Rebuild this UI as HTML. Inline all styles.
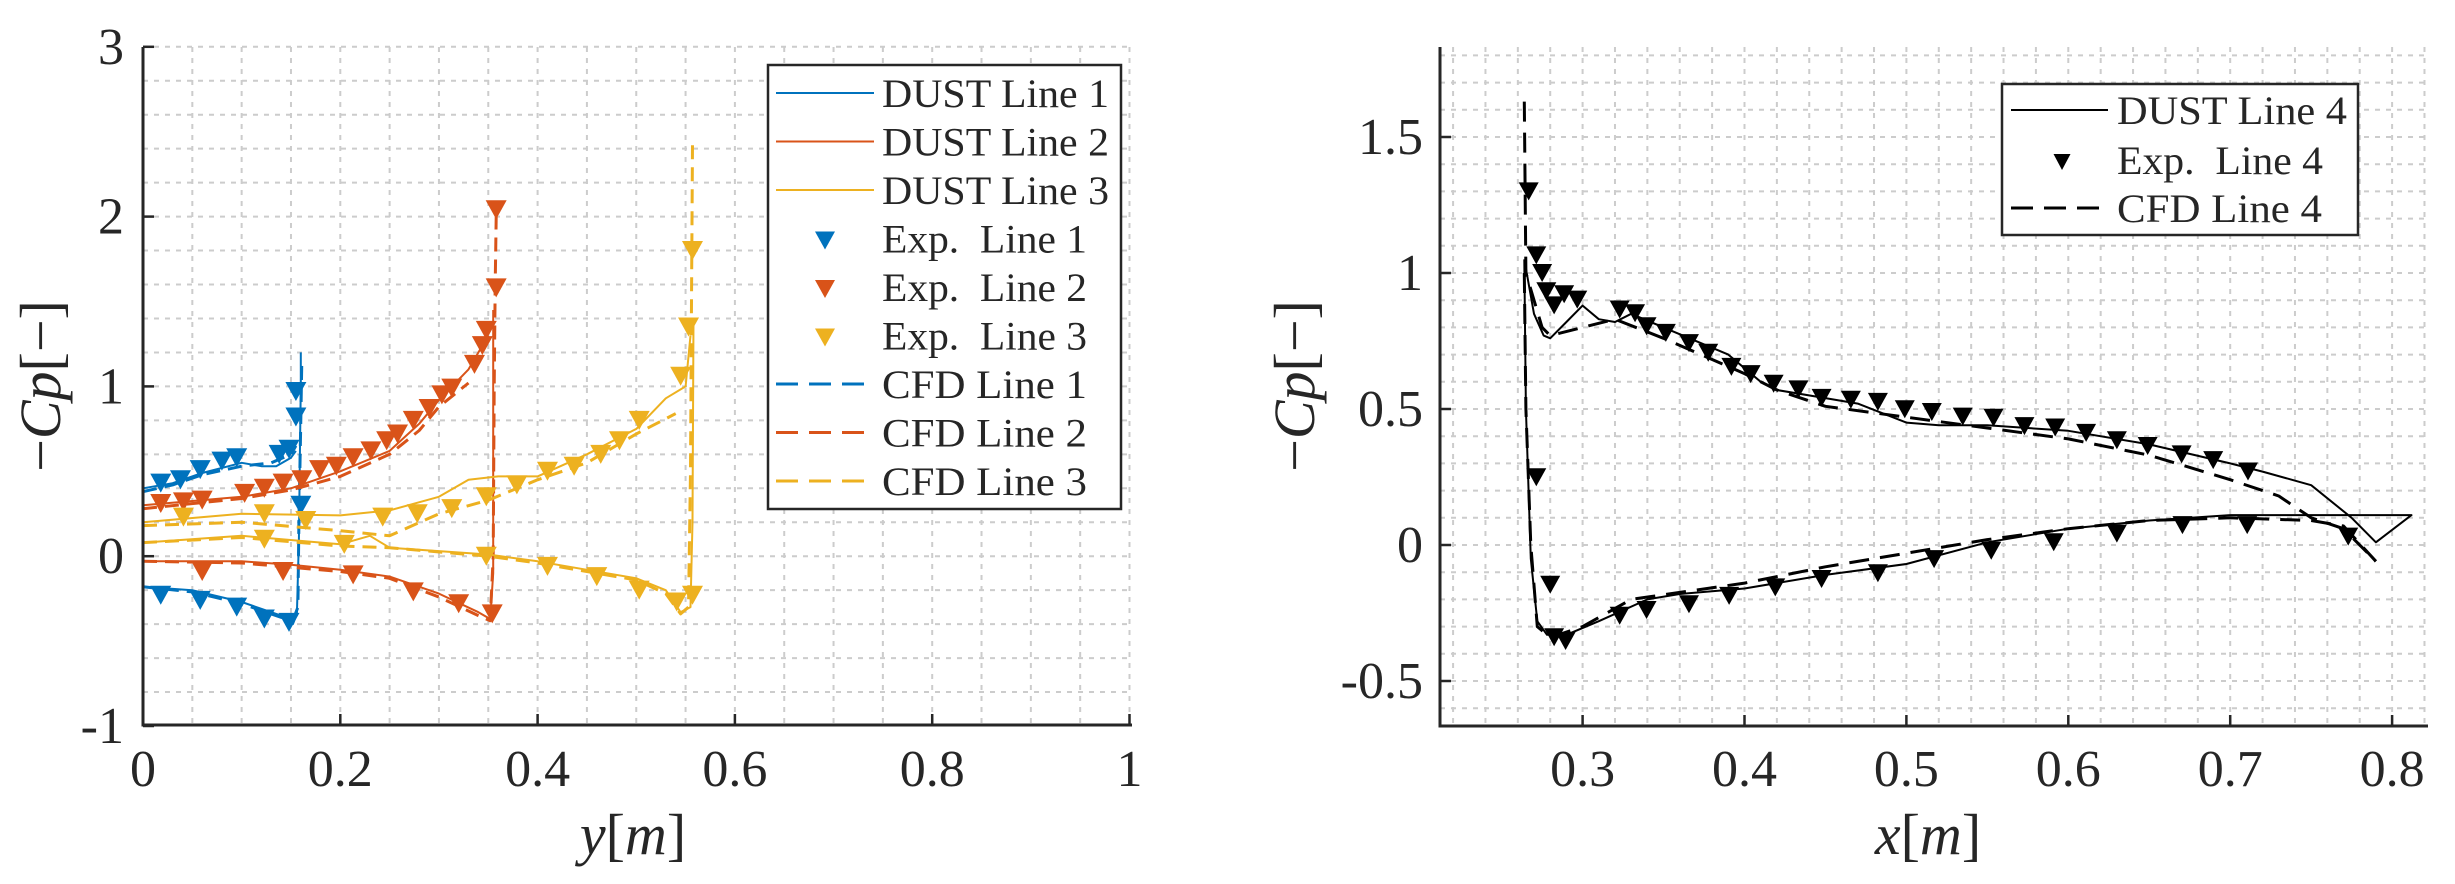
<!DOCTYPE html>
<html><head><meta charset="utf-8"><style>
html,body{margin:0;padding:0;background:#fff;}
svg{display:block;}
text{font-family:"Liberation Serif",serif;fill:#262626;}
</style></head><body>
<svg id="s" width="2455" height="884" xmlns="http://www.w3.org/2000/svg"></svg>
<script>
const S=document.getElementById('s');
let h='';
function add(x){h+=x;}
const B='#0072BD',R='#D95319',Y='#EDB120';
const LX=v=>143+986.5*v, LY=v=>556.2-169.8*v;
const RX=v=>1582.6+1619*(v-0.3), RY=v=>545-272*v;
function grid(x0,x1,y0,y1,xs,ys){
 xs.forEach(x=>add(`<line x1="${x}" y1="${y0}" x2="${x}" y2="${y1}" stroke="#cccccc" stroke-width="2" stroke-dasharray="5,6"/>`));
 ys.forEach(y=>add(`<line x1="${x0}" y1="${y}" x2="${x1}" y2="${y}" stroke="#cccccc" stroke-width="2" stroke-dasharray="5,6"/>`));
}
function path(pts,mx,my,col,w,dash){
 let d=pts.map((p,i)=>(i?'L':'M')+mx(p[0]).toFixed(1)+','+my(p[1]).toFixed(1)).join('');
 add(`<path d="${d}" fill="none" stroke="${col}" stroke-width="${w}" ${dash?'stroke-dasharray="'+dash+'"':''} stroke-linejoin="round"/>`);
}
function tri(x,y,w,hh,col){add(`<path d="M${x-w/2},${y-hh/2}L${x+w/2},${y-hh/2}L${x},${y+hh/2}Z" fill="${col}"/>`);}
function mk(pts,mx,my,col,w,hh){pts.forEach(p=>tri(mx(p[0]),my(p[1]),w,hh,col));}

let xs=[],ys=[];
for(let i=1;i<=20;i++)xs.push(LX(i*0.05));
for(let i=-4;i<=15;i++)ys.push(LY(i*0.2));
grid(143,1132,47,726,xs,ys);
path([[0,0.40],[0.03,0.43],[0.06,0.49],[0.1,0.55],[0.12,0.53],[0.135,0.53],[0.15,0.58],[0.155,0.62]],LX,LY,B,2);
path([[0,-0.18],[0.05,-0.2],[0.1,-0.27],[0.14,-0.35],[0.152,-0.40],[0.156,-0.34],[0.158,0.1],[0.159,0.6],[0.16,1.0],[0.16,1.2]],LX,LY,B,2);
path([[0,0.38],[0.03,0.42],[0.06,0.48],[0.1,0.53],[0.13,0.55],[0.15,0.6],[0.155,0.65]],LX,LY,B,3,'14,8');
path([[0,-0.18],[0.05,-0.21],[0.1,-0.28],[0.14,-0.36],[0.152,-0.38],[0.157,-0.3],[0.158,0.2],[0.16,0.8],[0.161,1.15]],LX,LY,B,3,'14,8');
path([[0,0.3],[0.1,0.35],[0.15,0.4],[0.2,0.5],[0.25,0.62],[0.28,0.78],[0.3,0.92],[0.33,1.1],[0.35,1.3]],LX,LY,R,2);
path([[0,-0.03],[0.1,-0.03],[0.15,-0.05],[0.2,-0.08],[0.25,-0.12],[0.3,-0.22],[0.34,-0.33],[0.352,-0.37],[0.355,-0.1],[0.355,1.45]],LX,LY,R,2);
path([[0,0.28],[0.1,0.34],[0.15,0.39],[0.2,0.47],[0.25,0.6],[0.28,0.74],[0.3,0.88],[0.33,1.02]],LX,LY,R,3,'14,8');
path([[0,-0.03],[0.1,-0.04],[0.2,-0.09],[0.25,-0.13],[0.3,-0.24],[0.34,-0.35],[0.352,-0.38],[0.355,0],[0.356,1.0],[0.357,1.6],[0.358,2.0]],LX,LY,R,3,'14,8');
path([[0,0.2],[0.1,0.25],[0.2,0.24],[0.25,0.27],[0.3,0.35],[0.33,0.45],[0.36,0.47],[0.4,0.47],[0.45,0.6],[0.5,0.75],[0.53,0.93],[0.55,1.0],[0.555,1.3]],LX,LY,Y,2);
path([[0,0.08],[0.1,0.12],[0.2,0.07],[0.23,0.12],[0.25,0.05],[0.35,0.01],[0.4,-0.03],[0.5,-0.13],[0.53,-0.2],[0.545,-0.33],[0.555,-0.3],[0.557,0.2],[0.558,1.4]],LX,LY,Y,2);
path([[0,0.18],[0.1,0.2],[0.2,0.15],[0.25,0.12],[0.3,0.25],[0.35,0.33],[0.4,0.45],[0.45,0.55],[0.5,0.72],[0.54,0.84]],LX,LY,Y,3,'14,8');
path([[0,0.08],[0.1,0.11],[0.2,0.06],[0.25,0.05],[0.35,0.0],[0.4,-0.04],[0.5,-0.14],[0.53,-0.22],[0.545,-0.34],[0.553,-0.3],[0.555,0.5],[0.556,1.5],[0.557,2.43]],LX,LY,Y,3,'14,8');
mk([[0.018,0.43],[0.038,0.45],[0.058,0.51],[0.08,0.56],[0.095,0.58],[0.138,0.60],[0.148,0.63],[0.155,0.82],[0.155,0.97],[0.160,0.30],[0.018,-0.23],[0.058,-0.26],[0.095,-0.30],[0.123,-0.37],[0.148,-0.39]],LX,LY,B,21,19);
mk([[0.018,0.31],[0.041,0.32],[0.06,0.33],[0.103,0.37],[0.123,0.40],[0.142,0.43],[0.161,0.45],[0.179,0.51],[0.196,0.53],[0.213,0.58],[0.231,0.62],[0.247,0.68],[0.258,0.72],[0.274,0.80],[0.29,0.87],[0.303,0.95],[0.313,0.99],[0.336,1.13],[0.344,1.24],[0.348,1.33],[0.358,1.58],[0.358,2.04],[0.06,-0.09],[0.142,-0.09],[0.213,-0.11],[0.274,-0.21],[0.32,-0.28],[0.354,-0.34]],LX,LY,R,21,19);
mk([[0.041,0.23],[0.123,0.25],[0.165,0.21],[0.243,0.23],[0.278,0.25],[0.313,0.28],[0.348,0.35],[0.379,0.42],[0.41,0.50],[0.437,0.53],[0.464,0.60],[0.483,0.68],[0.503,0.80],[0.545,1.06],[0.553,1.35],[0.557,1.80],[0.123,0.10],[0.204,0.07],[0.348,0.0],[0.41,-0.06],[0.46,-0.12],[0.503,-0.20],[0.541,-0.27],[0.557,-0.23]],LX,LY,Y,21,19);
add(`<path d="M143,47V725H1132" fill="none" stroke="#262626" stroke-width="3"/>`);
for(let i=0;i<=5;i++){let x=LX(i*0.2);add(`<line x1="${x}" y1="725" x2="${x}" y2="714" stroke="#262626" stroke-width="2.5"/>`);add(`<text x="${x}" y="786" font-size="52" text-anchor="middle">${[0,0.2,0.4,0.6,0.8,1][i]}</text>`);}
for(let v=-1;v<=3;v++){let y=LY(v);add(`<line x1="143" y1="${y}" x2="154" y2="${y}" stroke="#262626" stroke-width="2.5"/>`);add(`<text x="124" y="${y+17}" font-size="52" text-anchor="end">${v}</text>`);}
add(`<text x="633" y="854" font-size="58" text-anchor="middle"><tspan font-style="italic">y</tspan>[<tspan font-style="italic">m</tspan>]</text>`);
add(`<text transform="translate(60,386) rotate(-90)" font-size="58" text-anchor="middle">−<tspan font-style="italic">Cp</tspan>[−]</text>`);
add(`<rect x="768" y="65" width="353" height="444" fill="#fff" stroke="#262626" stroke-width="2.5"/>`);
const LL=[['DUST Line 1',B,'s'],['DUST Line 2',R,'s'],['DUST Line 3',Y,'s'],['Exp.  Line 1',B,'m'],['Exp.  Line 2',R,'m'],['Exp.  Line 3',Y,'m'],['CFD Line 1',B,'d'],['CFD Line 2',R,'d'],['CFD Line 3',Y,'d']];
LL.forEach((e,i)=>{let y=93+i*48.5;
 if(e[2]=='s')add(`<line x1="776" y1="${y}" x2="874" y2="${y}" stroke="${e[1]}" stroke-width="2"/>`);
 else if(e[2]=='d')add(`<line x1="776" y1="${y}" x2="874" y2="${y}" stroke="${e[1]}" stroke-width="3" stroke-dasharray="22,11"/>`);
 else tri(825,y+2,20,18,e[1]);
 let w=e[0].startsWith('DUST')?227:205;
 add(`<text x="882" y="${y+14}" font-size="40" textLength="${w}" lengthAdjust="spacingAndGlyphs" fill="#000" style="white-space:pre">${e[0]}</text>`);});

xs=[];ys=[];
for(let v=0.22;v<=0.8201;v+=0.02)xs.push(RX(v));
for(let v=-0.6;v<=1.801;v+=0.1)ys.push(RY(v));
grid(1440,2428,47,726,xs,ys);
const K='#000';
path([[0.264,1.05],[0.27,0.85],[0.276,0.77],[0.28,0.76],[0.29,0.82],[0.3,0.88],[0.31,0.83],[0.32,0.82],[0.33,0.85],[0.35,0.8],[0.39,0.7],[0.41,0.6],[0.42,0.57],[0.45,0.54],[0.47,0.52],[0.5,0.45],[0.52,0.44],[0.55,0.44],[0.6,0.42],[0.65,0.37],[0.7,0.3],[0.72,0.27],[0.75,0.22],[0.775,0.1],[0.79,0.01],[0.812,0.11],[0.75,0.11],[0.7,0.11],[0.65,0.09],[0.6,0.06],[0.55,0.01],[0.5,-0.07],[0.45,-0.11],[0.4,-0.16],[0.36,-0.18],[0.34,-0.2],[0.31,-0.28],[0.29,-0.33],[0.278,-0.33],[0.272,-0.28],[0.268,-0.05],[0.265,0.5],[0.264,1.05]],RX,RY,K,2);
path([[0.264,1.63],[0.265,1.0],[0.27,0.9],[0.275,0.8],[0.28,0.77],[0.3,0.8],[0.32,0.83],[0.35,0.76],[0.4,0.63],[0.42,0.57],[0.45,0.51],[0.5,0.47],[0.55,0.43],[0.6,0.39],[0.65,0.33],[0.7,0.24],[0.73,0.18],[0.75,0.1],[0.77,0.06],[0.79,-0.06]],RX,RY,K,3,'20,11');
path([[0.264,1.0],[0.265,0.5],[0.268,0.0],[0.272,-0.3],[0.28,-0.34],[0.3,-0.3],[0.33,-0.2],[0.4,-0.14],[0.45,-0.08],[0.5,-0.03],[0.55,0.02],[0.6,0.06],[0.65,0.09],[0.7,0.1],[0.75,0.09],[0.77,0.07],[0.79,-0.06]],RX,RY,K,3,'20,11');
mk([[0.2667,1.30],[0.2714,1.065],[0.275,1.0],[0.2776,0.933],[0.2824,0.881],[0.2886,0.922],[0.2967,0.902],[0.3229,0.866],[0.3324,0.852],[0.3395,0.804],[0.3514,0.78],[0.3657,0.742],[0.3776,0.707],[0.3919,0.655],[0.4038,0.628],[0.418,0.593],[0.4333,0.572],[0.4476,0.541],[0.4657,0.534],[0.4824,0.526],[0.499,0.499],[0.5157,0.489],[0.5348,0.472],[0.5538,0.468],[0.5729,0.437],[0.5919,0.432],[0.611,0.412],[0.63,0.385],[0.649,0.364],[0.67,0.333],[0.6895,0.312],[0.711,0.27],
[0.2714,0.249],[0.28,-0.146],[0.2824,-0.339],[0.2895,-0.353],[0.3229,-0.26],[0.3395,-0.239],[0.3657,-0.218],[0.3905,-0.187],[0.419,-0.156],[0.4476,-0.125],[0.4824,-0.104],[0.5171,-0.052],[0.5524,-0.021],[0.591,0.01],[0.63,0.042],[0.6705,0.073],[0.7105,0.073],[0.7729,0.031]],RX,RY,K,20,18);
add(`<path d="M1440,47V726H2428" fill="none" stroke="#262626" stroke-width="3"/>`);
[0.3,0.4,0.5,0.6,0.7,0.8].forEach(v=>{let x=RX(v);add(`<line x1="${x}" y1="726" x2="${x}" y2="715" stroke="#262626" stroke-width="2.5"/>`);add(`<text x="${x}" y="786" font-size="52" text-anchor="middle">${v}</text>`);});
[-0.5,0,0.5,1,1.5].forEach(v=>{let y=RY(v);add(`<line x1="1440" y1="${y}" x2="1451" y2="${y}" stroke="#262626" stroke-width="2.5"/>`);add(`<text x="1423" y="${y+17}" font-size="52" text-anchor="end">${v}</text>`);});
add(`<text x="1928" y="854" font-size="58" text-anchor="middle"><tspan font-style="italic">x</tspan>[<tspan font-style="italic">m</tspan>]</text>`);
add(`<text transform="translate(1314,386) rotate(-90)" font-size="58" text-anchor="middle">−<tspan font-style="italic">Cp</tspan>[−]</text>`);
add(`<rect x="2002" y="84" width="356" height="151" fill="#fff" stroke="#262626" stroke-width="2.5"/>`);
add(`<line x1="2011" y1="110" x2="2108" y2="110" stroke="#000" stroke-width="2"/>`);
tri(2062,162,17,16,'#000');
add(`<line x1="2011" y1="208" x2="2108" y2="208" stroke="#000" stroke-width="3" stroke-dasharray="22,11"/>`);
add(`<text x="2117" y="124" font-size="40" textLength="230" lengthAdjust="spacingAndGlyphs" fill="#000">DUST Line 4</text>`);
add(`<text x="2117" y="174" font-size="40" textLength="206" lengthAdjust="spacingAndGlyphs" fill="#000" style="white-space:pre">Exp.  Line 4</text>`);
add(`<text x="2117" y="222" font-size="40" textLength="205" lengthAdjust="spacingAndGlyphs" fill="#000">CFD Line 4</text>`);
S.innerHTML=h;
</script>
</body></html>
